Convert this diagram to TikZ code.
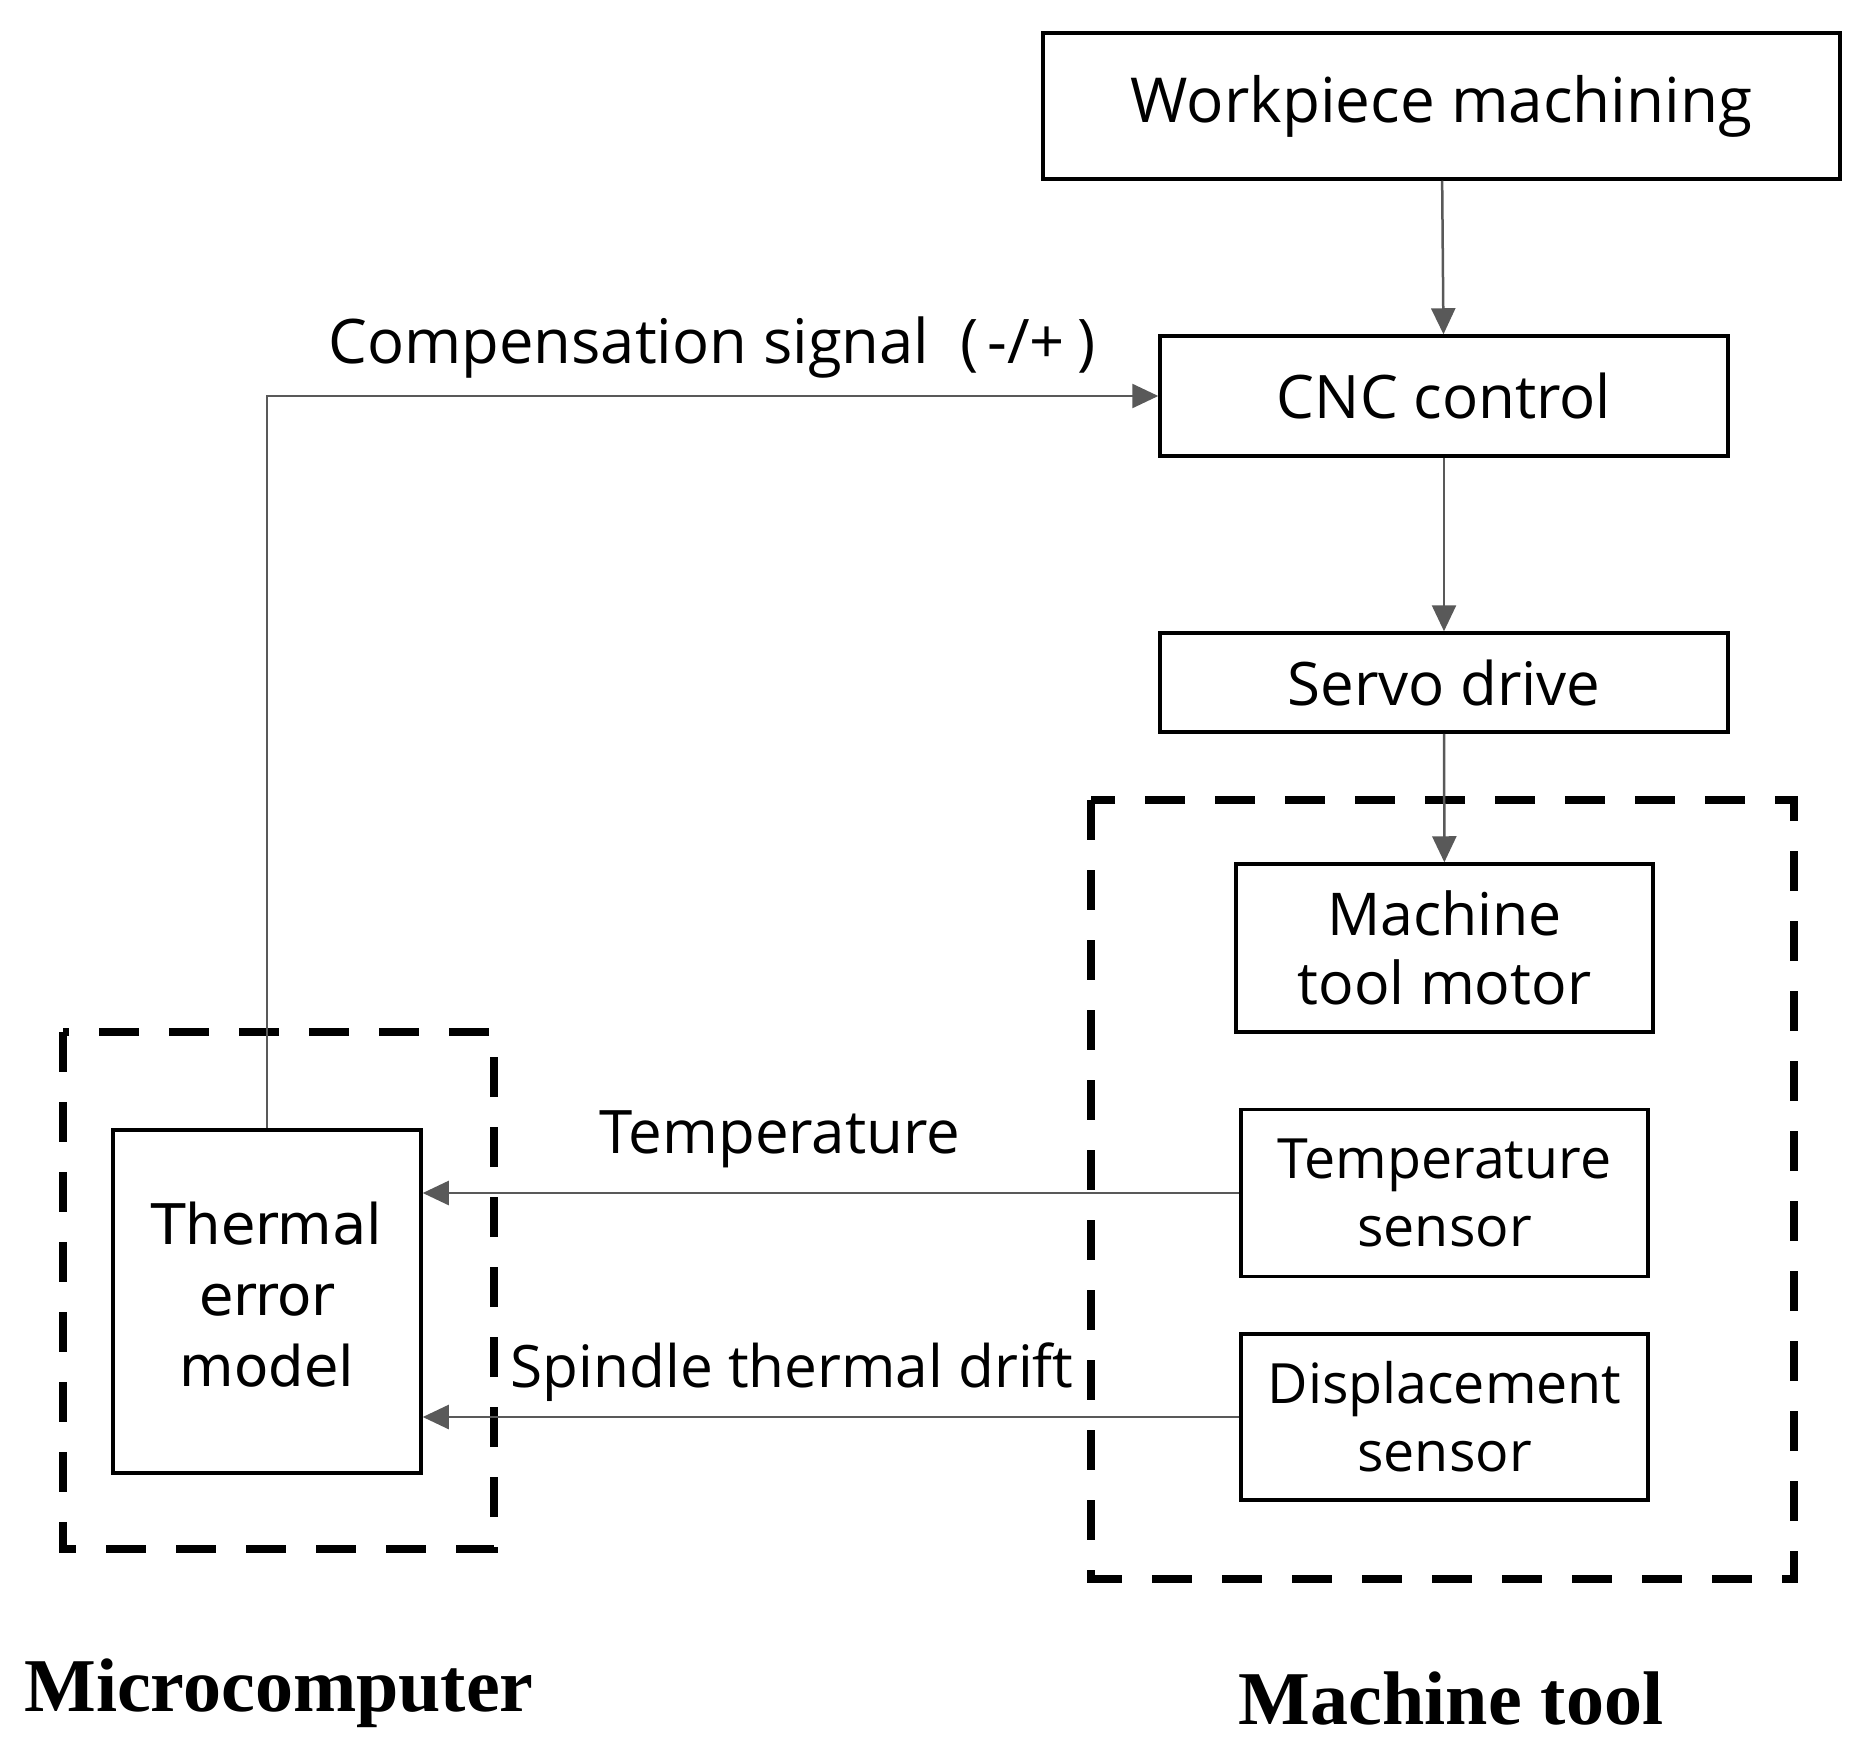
\documentclass[tikz,border=0pt]{standalone}
\usepackage{fontspec}
\setmainfont{Open Sans}
\newfontfamily\dejavu{DejaVu Sans}
\newfontfamily\tnr{Liberation Serif}
\usetikzlibrary{arrows.meta}
\begin{document}
\begin{tikzpicture}[x=1pt,y=-1pt,
  box/.style={draw=black,line width=3.5pt,rectangle,inner sep=0pt,align=center,
    font=\fontsize{60}{70}\selectfont},
  sbox/.style={box,font=\fontsize{55.5}{68}\selectfont},
  conn/.style={draw=black!65,line width=2.5pt,-{Triangle[length=26pt,width=24pt]}},
  grp/.style={draw=black,line width=8pt,dash pattern=on 40pt off 30pt},
  lbl/.style={anchor=base,font=\fontsize{60}{70}\selectfont},
  ttl/.style={anchor=base,font=\tnr\bfseries\fontsize{76}{82}\selectfont}]
\useasboundingbox (0,0) rectangle (1867,1752);
\fill[white] (0,0) rectangle (1867,1752);
% groups
\draw[grp] (63,1032) rectangle (494,1549);
\draw[grp] (1091,800) rectangle (1794,1579);
% nodes
\node[box,minimum width=797pt,minimum height=146pt,font=\fontsize{62}{70}\selectfont] (wp) at (1441.5,106) {Workpiece machining};
\node[box,minimum width=568pt,minimum height=120pt] (cnc) at (1444,396) {CNC control};
\node[box,minimum width=568pt,minimum height=99pt] (servo) at (1444,682.5) {Servo drive};
\node[box,minimum width=417pt,minimum height=168pt,font=\fontsize{59}{69}\selectfont] (motor) at (1444.5,948) {Machine\\tool motor};
\node[sbox,minimum width=407pt,minimum height=167pt] (tsens) at (1444.5,1193) {Temperature\\sensor};
\node[sbox,minimum width=407pt,minimum height=166pt] (dsens) at (1444.5,1417) {Displacement\\sensor};
\node[box,minimum width=308pt,minimum height=343pt,font=\dejavu\fontsize{56}{71}\selectfont] (thermal) at (267,1301.5) {Thermal\\error\\model\\[-57pt]\mbox{}};
% connectors
\draw[conn] (wp) -- (cnc);
\draw[conn] (cnc) -- (servo);
\draw[conn] (servo) -- (motor);
\draw[conn] (thermal.north) |- (cnc.west);
\draw[conn] (tsens.west) -- (tsens.west -| thermal.east);
\draw[conn] (dsens.west) -- (dsens.west -| thermal.east);
% labels
\node[lbl,font=\fontsize{61.5}{70}\selectfont] (lcomp) at (712,363) {Compensation signal\hspace{0.5em}(\hspace{0.15em}-/+\hspace{0.2em})};
\node[lbl] (ltemp) at (780,1153) {Temperature};
\node[lbl,font=\fontsize{58.5}{70}\selectfont] (lspin) at (792,1387) {Spindle thermal drift};
\node[ttl] (lmicro) at (279,1711) {Microcomputer};
\node[ttl] (lmach) at (1451,1724) {Machine tool};
\end{tikzpicture}
\end{document}
